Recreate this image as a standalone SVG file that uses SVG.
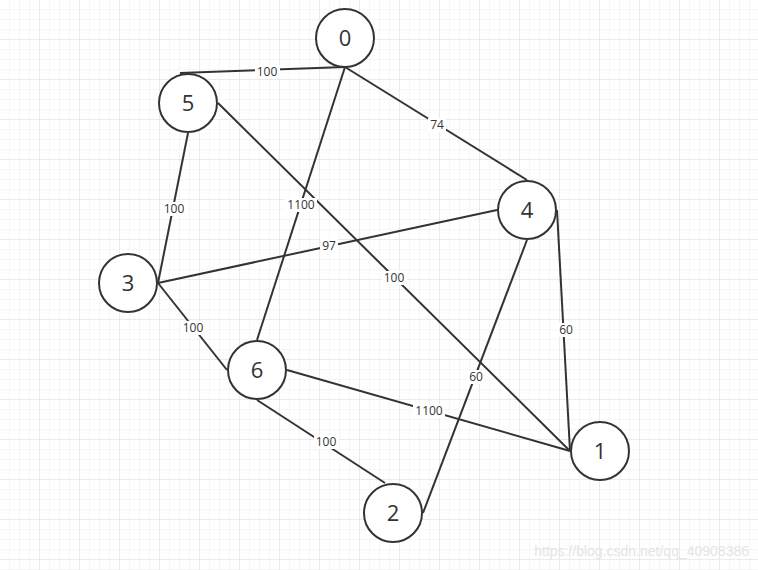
<svg xmlns="http://www.w3.org/2000/svg" width="758" height="570" viewBox="0 0 758 570">
<defs>
<pattern id="g" width="10" height="10" patternUnits="userSpaceOnUse"><path d="M10 0V10H0" fill="none" stroke="#ececec" stroke-width="1"/></pattern>
<pattern id="G" width="40" height="40" patternUnits="userSpaceOnUse"><rect width="40" height="40" fill="url(#g)"/><path d="M40 0V40H0" fill="none" stroke="#e0e0e0" stroke-width="1"/></pattern>
</defs>
<style>
.e{stroke:#333;stroke-width:2;fill:none}
.n circle{fill:#fff;stroke:#333;stroke-width:2}
.n text{font-family:"Open Sans","DejaVu Sans",sans-serif;font-size:22px;fill:#333;text-anchor:middle}
.l rect{fill:#fff}
.l text{font-family:"Open Sans","DejaVu Sans",sans-serif;font-size:12px;fill:#333;text-anchor:middle}
</style>
<rect width="758" height="570" fill="#fff"/>
<rect width="758" height="570" fill="url(#G)"/>
<g id="connectors">
<path class="e" d="M180 73L345 67"/>
<path class="e" d="M345 67L527 180"/>
<path class="e" d="M345 67L257 340"/>
<path class="e" d="M188 133L158 283"/>
<path class="e" d="M218 103L570 451"/>
<path class="e" d="M497 210L158 283"/>
<path class="e" d="M557 210L570 451"/>
<path class="e" d="M527 240L423 513"/>
<path class="e" d="M158 283L227 370"/>
<path class="e" d="M287 370L570 451"/>
<path class="e" d="M257 400L385 483"/>
</g>
<g id="labels">
<g class="l"><rect x="255" y="65" width="25" height="14"/><text x="267" y="76">100</text></g>
<g class="l"><rect x="428" y="118" width="18" height="14"/><text x="437" y="129">74</text></g>
<g class="l"><rect x="285" y="198" width="32" height="14"/><text x="301" y="209">1100</text></g>
<g class="l"><rect x="162" y="202" width="25" height="14"/><text x="174" y="213">100</text></g>
<g class="l"><rect x="382" y="271" width="25" height="14"/><text x="394" y="282">100</text></g>
<g class="l"><rect x="320" y="239" width="18" height="14"/><text x="329" y="250">97</text></g>
<g class="l"><rect x="557" y="323" width="18" height="14"/><text x="566" y="334">60</text></g>
<g class="l"><rect x="467" y="370" width="18" height="14"/><text x="476" y="381">60</text></g>
<g class="l"><rect x="181" y="321" width="25" height="14"/><text x="193" y="332">100</text></g>
<g class="l"><rect x="413" y="404" width="32" height="14"/><text x="429" y="415">1100</text></g>
<g class="l"><rect x="314" y="435" width="25" height="14"/><text x="326" y="446">100</text></g>
</g>
<g id="n0" class="n"><circle cx="345" cy="38" r="29"/><text x="345" y="46">0</text></g>
<g id="n5" class="n"><circle cx="188" cy="103" r="29"/><text x="188" y="111">5</text></g>
<g id="n4" class="n"><circle cx="527" cy="210" r="29"/><text x="527" y="218">4</text></g>
<g id="n3" class="n"><circle cx="128" cy="283" r="29"/><text x="128" y="291">3</text></g>
<g id="n6" class="n"><circle cx="257" cy="370" r="29"/><text x="257" y="378">6</text></g>
<g id="n1" class="n"><circle cx="600" cy="451" r="29"/><text x="600" y="459">1</text></g>
<g id="n2" class="n"><circle cx="393" cy="513" r="29"/><text x="393" y="521">2</text></g>
<text x="749" y="556" text-anchor="end" font-family="Liberation Sans,sans-serif" font-size="14" fill="#e4e4e4">https://blog.csdn.net/qq_40908386</text>
</svg>
